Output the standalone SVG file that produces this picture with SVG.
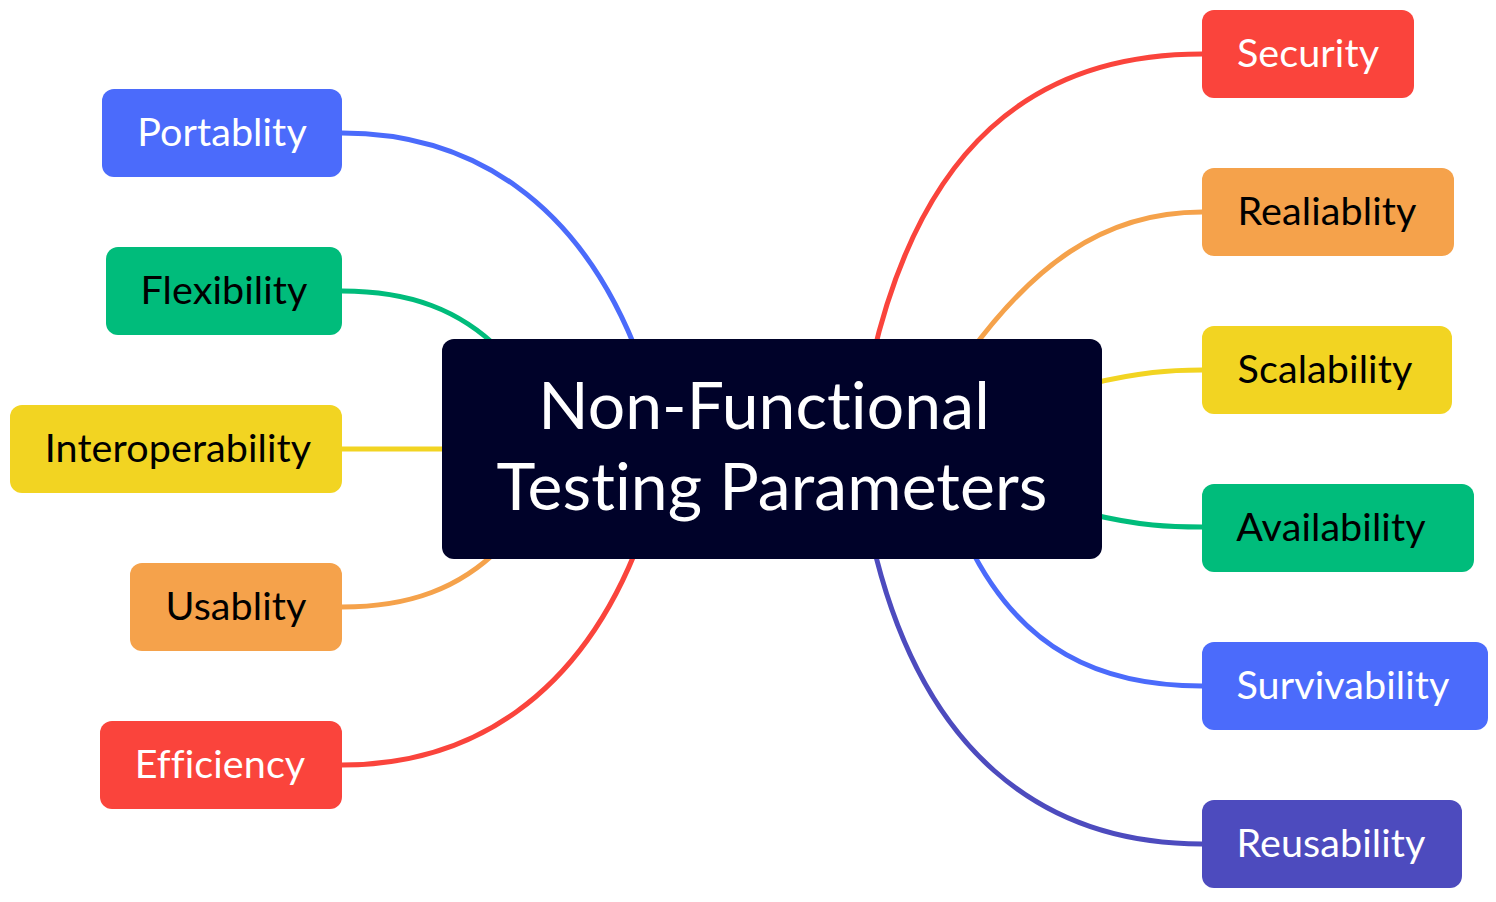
<svg xmlns="http://www.w3.org/2000/svg" width="1496" height="902" viewBox="0 0 1496 902">
<style>
.c{fill:none;stroke-width:5;stroke-linecap:round}
.lbl{font-family:Lato,"Liberation Sans",sans-serif;font-size:39.5px;text-anchor:middle;font-variant-ligatures:none;font-feature-settings:"liga" 0,"clig" 0,"dlig" 0;letter-spacing:0.1px}
.w{fill:#ffffff}.k{fill:#000000}
.title{font-family:Lato,"Liberation Sans",sans-serif;font-size:66px;fill:#ffffff;text-anchor:middle;font-variant-ligatures:none;font-feature-settings:"liga" 0,"clig" 0,"dlig" 0;letter-spacing:0.1px}
.blue{fill:#4B6BFB}.green{fill:#00BC7B}.yellow{fill:#F2D422}.orange{fill:#F5A24B}.red{fill:#FA443C}.indigo{fill:#4D4BBE}
</style>
<rect width="1496" height="902" fill="#ffffff"/>
<g id="connectors">
<path class="c" stroke="#4B6BFB" d="M342,133 C470,133 580,200 640,360"/>
<path class="c" stroke="#00BC7B" d="M342,291 C410,291 460,310 500,350"/>
<path class="c" stroke="#F2D422" d="M342,449 L450,449"/>
<path class="c" stroke="#F5A24B" d="M342,607 C410,607 460,588 500,548"/>
<path class="c" stroke="#FA443C" d="M342,765 C470,765 580,698 640,540"/>
<path class="c" stroke="#FA443C" d="M1202,54 C1030,54 920,150 872,360"/>
<path class="c" stroke="#F5A24B" d="M1202,212 C1100,212 1030,270 968,355"/>
<path class="c" stroke="#F2D422" d="M1090,384 C1140,372 1170,370 1202,370"/>
<path class="c" stroke="#00BC7B" d="M1090,514 C1140,526 1170,527 1202,527"/>
<path class="c" stroke="#4B6BFB" d="M1202,686 C1100,686 1020,650 968,543"/>
<path class="c" stroke="#4D4BBE" d="M1202,844 C1040,844 920,750 872,540"/>
</g>
<g id="center">
<rect x="442" y="339" width="660" height="220" rx="12" fill="#000229"/>
<text class="title" x="764" y="429">Non-Functional</text>
<text class="title" x="772" y="510">Testing Parameters</text>
</g>
<g id="portablity"><rect class="blue" x="102" y="89" width="240" height="88" rx="12"/><text class="lbl w" x="222" y="146">Portablity</text></g>
<g id="flexibility"><rect class="green" x="106" y="247" width="236" height="88" rx="12"/><text class="lbl k" x="224" y="304">Flexibility</text></g>
<g id="interoperability"><rect class="yellow" x="10" y="405" width="332" height="88" rx="12"/><text class="lbl k" x="178" y="462">Interoperability</text></g>
<g id="usablity"><rect class="orange" x="130" y="563" width="212" height="88" rx="12"/><text class="lbl k" x="236" y="620">Usablity</text></g>
<g id="efficiency"><rect class="red" x="100" y="721" width="242" height="88" rx="12"/><text class="lbl w" x="220" y="778">Efficiency</text></g>
<g id="security"><rect class="red" x="1202" y="10" width="212" height="88" rx="12"/><text class="lbl w" x="1308" y="67">Security</text></g>
<g id="realiablity"><rect class="orange" x="1202" y="168" width="252" height="88" rx="12"/><text class="lbl k" x="1327" y="225">Realiablity</text></g>
<g id="scalability"><rect class="yellow" x="1202" y="326" width="250" height="88" rx="12"/><text class="lbl k" x="1325" y="383">Scalability</text></g>
<g id="availability"><rect class="green" x="1202" y="484" width="272" height="88" rx="12"/><text class="lbl k" x="1331" y="541">Availability</text></g>
<g id="survivability"><rect class="blue" x="1202" y="642" width="286" height="88" rx="12"/><text class="lbl w" x="1343" y="699">Survivability</text></g>
<g id="reusability"><rect class="indigo" x="1202" y="800" width="260" height="88" rx="12"/><text class="lbl w" x="1331" y="857">Reusability</text></g>
</svg>
